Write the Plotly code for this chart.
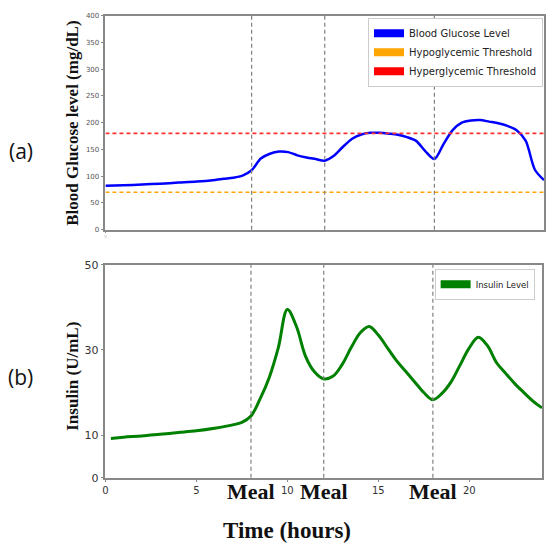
import plotly.graph_objects as go

# glucose curve (mg/dL)
glucose_t = [0, 1, 2, 3, 4, 5, 6, 6.5, 7, 7.5, 8, 8.5, 9, 9.5, 10, 10.5, 11, 11.5, 12, 12.5,
             13, 13.5, 14, 14.5, 15, 15.5, 16, 16.5, 17, 17.5, 18, 18.5, 19, 19.5, 20, 20.5,
             21, 21.5, 22, 22.5, 23, 23.5, 24]
glucose = [82, 83, 84.5, 86, 88, 90, 93, 95, 97, 101, 111, 133, 142, 146, 145, 139, 135, 132, 129, 138,
           155, 170, 178, 181, 181, 179.5, 177.5, 173, 166, 147, 132, 160, 186, 200, 204, 205,
           202, 199, 194, 186, 166, 112, 92.5]

# insulin curve (U/mL)
insulin_t = [0.3, 1, 2, 3, 4, 5, 6, 7, 7.5, 8, 8.5, 9, 9.5, 10, 10.5, 11, 11.5, 12, 12.5, 13,
             13.5, 14, 14.5, 15, 15.5, 16, 16.5, 17, 17.5, 18, 18.5, 19, 19.5, 20, 20.5, 21,
             21.5, 22, 22.5, 23, 23.5, 24]
insulin = [9.2, 9.5, 9.8, 10.2, 10.6, 11, 11.6, 12.4, 13, 14.5, 18.5, 23.5, 30.5, 39.5, 35.5, 28.5, 24.8, 23.2, 23.8, 26.5,
           30.5, 34, 35.5, 33.5, 30.5, 27.5, 25, 22.5, 20, 18.3, 19.8, 22.5, 26.5, 30.5, 33, 31,
           27, 24.5, 22.1, 20, 18, 16.4]

hypo = 70
hyper = 180
meals = [8, 12, 18]
x_ticks = [0, 5, 10, 15, 20]
glucose_ticks = [0, 50, 100, 150, 200, 250, 300, 350, 400]
insulin_ticks = [0, 10, 30, 50]

W, H = 550, 556
def py(p):
    return 1 - p / H

serif = "Liberation Serif"
sans = "DejaVu Sans"

fig = go.Figure()

fig.add_trace(go.Scatter(x=glucose_t, y=glucose, mode="lines", line=dict(color="#0000ff", width=2.5, shape="spline", smoothing=0.8),
                         showlegend=False, xaxis="x", yaxis="y"))
fig.add_trace(go.Scatter(x=[0, 24], y=[hypo, hypo], mode="lines", line=dict(color="#ffa500", width=1.4, dash="4px,3px"),
                         showlegend=False, xaxis="x", yaxis="y"))
fig.add_trace(go.Scatter(x=[0, 24], y=[hyper, hyper], mode="lines", line=dict(color="#ff3333", width=1.6, dash="4px,3px"),
                         showlegend=False, xaxis="x", yaxis="y"))
fig.add_trace(go.Scatter(x=insulin_t, y=insulin, mode="lines", line=dict(color="#008000", width=3, shape="spline", smoothing=1),
                         showlegend=False, xaxis="x2", yaxis="y2"))

# legend patches
for name, col in [("Blood Glucose Level", "#0000ff"), ("Hypoglycemic Threshold", "#ffa500"),
                  ("Hyperglycemic Threshold", "#ff0000")]:
    fig.add_trace(go.Scatter(x=[None], y=[None], mode="lines", name=name, line=dict(color=col, width=8),
                             xaxis="x", yaxis="y", legend="legend"))
fig.add_trace(go.Scatter(x=[None], y=[None], mode="lines", name="Insulin Level", line=dict(color="#008000", width=8),
                         xaxis="x2", yaxis="y2", legend="legend2"))

shapes = []
for m in meals:
    for xr, yr in [("x", "y domain"), ("x2", "y2 domain")]:
        shapes.append(dict(type="line", xref=xr, yref=yr, x0=m, x1=m, y0=0, y1=1,
                           line=dict(color="#808080", width=1.2, dash="4px,3px")))

def label(x, y, text, size, family=serif, angle=0, xref="paper"):
    return dict(x=x, y=y, xref=xref, yref="paper", text=text, showarrow=False, textangle=angle,
                xanchor="center", yanchor="middle", font=dict(family=family, size=size, color="#111"))

annotations = [label(m, py(497), "<b>Meal</b>", 22, xref="x2") for m in meals]
annotations += [
    label(286 / W, py(537), "<b>Time (hours)</b>", 23),
    label(70 / W, py(120), "<b>Blood Glucose level (mg/dL)</b>", 17, angle=-90),
    label(70 / W, py(379), "<b>Insulin (U/mL)</b>", 17, angle=-90),
    label(18 / W, py(148), "(a)", 21, family="Open Sans"),
    label(18 / W, py(380), "(b)", 21, family="Open Sans"),
]

axis_common = dict(showline=True, mirror=True, linecolor="#888", linewidth=1.5, showgrid=False, zeroline=False,
                   ticks="outside", tickcolor="#888")

fig.update_layout(
    width=W, height=H, margin=dict(l=0, r=0, t=0, b=0),
    paper_bgcolor="white", plot_bgcolor="white",
    xaxis=dict(domain=[103 / W, 544 / W], anchor="y", range=[0, 24], tickvals=[0], ticktext=["0"], ticklen=2,
               tickfont=dict(size=4, color="#bbb", family=sans), **axis_common),
    yaxis=dict(domain=[py(229), py(10)], anchor="x", range=[0, 400], tickvals=glucose_ticks, ticklen=3,
               tickfont=dict(size=7, color="#555", family=sans), **axis_common),
    xaxis2=dict(domain=[103 / W, 542 / W], anchor="y2", range=[0, 24], tickvals=x_ticks, ticklen=3,
                tickfont=dict(size=10, color="#333", family=sans), **axis_common),
    yaxis2=dict(domain=[py(483), py(265)], anchor="x2", range=[0, 50], tickvals=insulin_ticks, ticklen=3,
                tickfont=dict(size=11, color="#333", family=sans), **axis_common),
    legend=dict(x=367 / W, y=py(12), xanchor="left", yanchor="top", bgcolor="white", bordercolor="#ccc", borderwidth=1,
                font=dict(family=sans, size=10, color="#222")),
    legend2=dict(x=434 / W, y=py(269), xanchor="left", yanchor="top", bgcolor="white", bordercolor="#ccc", borderwidth=1,
                 font=dict(family=sans, size=8.5, color="#222")),
    shapes=shapes, annotations=annotations,
)

fig.write_html("out.html", config={"displayModeBar": False}, post_script="document.body.style.margin='0';")
